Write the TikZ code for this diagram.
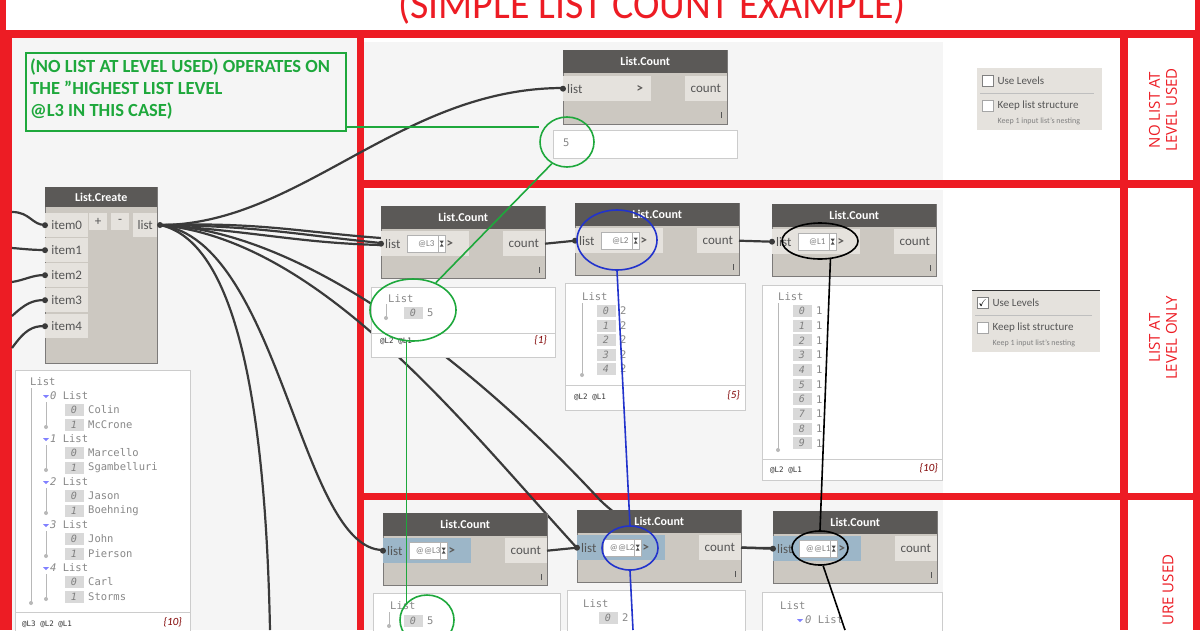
\documentclass[tikz,border=0pt]{standalone}
\usepackage{amssymb}
\usepackage{fontspec}
\setmainfont{Carlito}
\setmonofont{DejaVu Sans Mono}
\newfontfamily\lblfont{Open Sans}
\usetikzlibrary{shapes.geometric}
\definecolor{dred}{HTML}{ED1C24}
\definecolor{dgreen}{HTML}{1EA83C}
\definecolor{dblue}{HTML}{2233CC}
\definecolor{hdrc}{HTML}{5B5957}
\definecolor{bodyc}{HTML}{CCC8C1}
\definecolor{portc}{HTML}{E5E2DD}
\definecolor{porthl}{HTML}{9CB6C8}
\definecolor{canv}{HTML}{F5F5F5}
\definecolor{txtg}{HTML}{555555}
\definecolor{treeg}{HTML}{888888}
\definecolor{wirec}{HTML}{3A3A3A}
\tikzset{
  body/.style={fill=bodyc,draw=hdrc!80,line width=0.6,inner sep=0},
  hdr/.style={fill=hdrc,text=white,font=\bfseries\fontsize{12}{12}\selectfont,inner sep=0},
  port/.style={fill=portc,inner sep=0,font=\fontsize{13}{13}\selectfont,text=txtg},
  porthi/.style={fill=porthl,inner sep=0},
  spin/.style={fill=white,draw=gray!60,inner sep=0,minimum width=38,minimum height=17,font=\fontsize{9}{9}\selectfont,text=gray},
  prev/.style={fill=white,draw=gray!40,line width=0.6},
  ttx/.style={font=\ttfamily\fontsize{10.5}{10.5}\selectfont,text=treeg,inner sep=0,anchor=west},
  idxb/.style={fill=gray!30,font=\ttfamily\itshape\fontsize{10}{10}\selectfont,text=gray,inner sep=0,minimum width=19,minimum height=12},
  foot/.style={font=\ttfamily\fontsize{7.5}{7.5}\selectfont,text=black!80,inner sep=0,anchor=west},
  cnt/.style={font=\itshape\fontsize{11}{11}\selectfont,text=red!50!black,inner sep=0,anchor=east},
  wire/.style={draw=wirec,line width=2.2},
  redlbl/.style={rotate=90,text=dred,align=center,font=\lblfont\fontsize{15}{17}\selectfont},
  gcirc/.style={ellipse,draw=dgreen,line width=1.6,inner sep=0},
  bcirc/.style={ellipse,draw=dblue,line width=1.6,inner sep=0},
  kcirc/.style={ellipse,draw=black,line width=1.6,inner sep=0},
}
\newcommand\lcnode[5]{%
  \node[body,anchor=north west,minimum width=164,minimum height=72] (#1) at (#2,#3) {};
  \node[hdr,anchor=north west,minimum width=164,minimum height=23] (#1h) at (#2,#3) {List.Count};
  \node[#5,anchor=north west,minimum width=88,minimum height=25] (#1in) at (#2,#3+25) {};
  \node[port,fill=none,anchor=west] (#1lt) at ([xshift=4]#1in.west) {list};
  \node[spin,anchor=west] (#1sp) at ([xshift=26]#1in.west) {#4\hspace{10pt}};
  \node[fill=white,draw=gray!60,minimum width=7,minimum height=17,inner sep=0,anchor=east] (#1ar) at (#1sp.east) {};
  \fill[black!70] ([yshift=-3]#1ar.center) +(-2,0) -- +(2,0) -- +(0,-3) -- cycle;
  \fill[black!70] ([yshift=3]#1ar.center) +(-2,0) -- +(2,0) -- +(0,3) -- cycle;
  \node[anchor=west,inner sep=1,font=\bfseries\fontsize{13}{13}\selectfont,text=hdrc] (#1gt) at (#1sp.east) {>};
  \node[port,anchor=north east,minimum width=42,minimum height=25] (#1out) at (#2+164,#3+25) {count};
  \node[inner sep=0] (#1tk) at (#2+158,#3+64) {\color{txtg}\rule{0.6pt}{6pt}};
  \fill[wirec] (#1in.west) circle (3);
}
\newcommand\optpanel[4]{%
  \node[fill=portc,anchor=north west,minimum width=#3,minimum height=62,inner sep=0] (#1) at (#2) {};
  \node[draw=gray,fill=white,minimum size=11,inner sep=0,anchor=west] (#1c) at ([xshift=5,yshift=-13]#1.north west) {#4};
  \node[anchor=west,inner sep=0,font=\fontsize{11}{11}\selectfont,text=txtg] (#1t) at ([xshift=4]#1c.east) {Use Levels};
  \draw[gray!50,line width=1] ([xshift=3,yshift=-25]#1.north west) -- ([xshift=-8,yshift=-25]#1.north east);
  \node[draw=gray!70,fill=white,minimum size=11,inner sep=0,anchor=west] (#1k) at ([xshift=5,yshift=-38]#1.north west) {};
  \node[anchor=west,inner sep=0,font=\fontsize{11}{11}\selectfont,text=txtg] (#1kt) at ([xshift=4]#1k.east) {Keep list structure};
  \node[anchor=north west,inner sep=0,font=\fontsize{8}{8}\selectfont,text=gray] (#1ks) at ([yshift=-7]#1kt.south west) {Keep 1 input list's nesting};
}
\begin{document}
\begin{tikzpicture}[x=1pt,y=-1pt]
\useasboundingbox (0,0) rectangle (1200,630);
\clip (0,0) rectangle (1200,630);
% red frame
\fill[dred] (0,0) rectangle (1200,630);
\fill[white] (6,0) rectangle (1195,30);
\fill[canv] (12,38) rectangle (357,630);
\fill[white] (364,38) rectangle (1120,180);
\fill[canv] (364,42) rectangle (943,180);
\fill[white] (364,188) rectangle (1120,493);
\fill[canv] (364,190) rectangle (943,493);
\fill[white] (364,500) rectangle (1120,630);
\fill[canv] (364,500) rectangle (943,630);
\fill[white] (1128,38) rectangle (1193,180);
\fill[white] (1128,188) rectangle (1193,493);
\fill[white] (1128,500) rectangle (1193,630);
\node[text=dred,font=\fontsize{42}{42}\selectfont,xscale=0.95] (title) at (652,6) {(SIMPLE LIST COUNT EXAMPLE)};
\node[redlbl] (l1) at (1163,110) {NO LIST AT\\LEVEL USED};
\node[redlbl] (l2) at (1163,338) {LIST AT\\LEVEL ONLY};
\node[redlbl] (l3) at (1168,590) {URE USED};

% wires (behind nodes)
\coordinate (lcout) at (160,225);
\coordinate (w0) at (12,212); \coordinate (w1) at (12,248); \coordinate (w2) at (12,282);
\coordinate (w3) at (12,316); \coordinate (w4) at (12,348);
\draw[wire] (w0) .. controls (30,212) and (32,225) .. (45,225);
\draw[wire] (w1) .. controls (25,249) and (32,250) .. (45,250);
\draw[wire] (w2) .. controls (25,280) and (32,275) .. (45,275);
\draw[wire] (w3) .. controls (25,304) and (32,300) .. (45,300);
\draw[wire] (w4) .. controls (25,330) and (32,326) .. (45,326);
\draw[wire] (lcout) .. controls (300,225) and (400,88) .. (563,88);
\draw[wire] (lcout) .. controls (260,226) and (300,235) .. (381,243);
\draw[wire] (lcout) .. controls (260,222) and (300,232) .. (381,238);
\draw[wire] (lcout) .. controls (260,232) and (300,243) .. (381,245);
\draw[wire] (lcout) .. controls (230,240) and (265,380) .. (270,630);
\draw[wire] (lcout) .. controls (280,240) and (300,550) .. (383,550);
\draw[wire] (lcout) .. controls (320,240) and (460,420) .. (577,548);
\draw[wire] (lcout) .. controls (300,230) and (470,360) .. (600,500) .. controls (640,540) and (700,548) .. (773,548);

% List.Create
\node[body,anchor=north west,minimum width=112,minimum height=176] (lc) at (45,187) {};
\node[hdr,anchor=north west,minimum width=112,minimum height=20] (lch) at (45,187) {List.Create};
\foreach \i/\yy in {0/213,1/238,2/263,3/288,4/314}{
  \node[port,anchor=north west,minimum width=43,minimum height=24] (lci\i) at (45,\yy) {item\i};
  \fill[wirec] (lci\i.west) circle (3);
}
\node[port,anchor=north west,minimum width=18,minimum height=17] (lcp) at (89,213) {+};
\node[port,anchor=north west,minimum width=18,minimum height=17] (lcm) at (111,213) {-};
\node[port,anchor=north west,minimum width=24,minimum height=24] (lco) at (133,213) {list};
\fill[wirec] (lcout) circle (3);

% left preview
\draw[prev] (15,370) rectangle (190,640);
\node[ttx] (lt) at (30,382) {List};
\draw[treeg!60,line width=1] (31,388) -- (31,603); \fill[treeg!60] (31,603) circle (2);
\foreach \k/\a/\b in {0/Colin/McCrone,1/Marcello/Sgambelluri,2/Jason/Boehning,3/John/Pierson,4/Carl/Storms}{
  \pgfmathsetmacro\yy{396+43*\k}
  \fill[blue!50] (43,\yy-1) -- (49,\yy-1) -- (46,\yy+2) -- cycle;
  \node[ttx] at (50,\yy) {\textit{\k} List};
  \draw[treeg!60,line width=1] (46,\yy+6) -- (46,\yy+31); \fill[treeg!60] (46,\yy+31) circle (2);
  \node[idxb] at (74,\yy+14) {0}; \node[ttx] at (88,\yy+14) {\a};
  \node[idxb] at (74,\yy+28.5) {1}; \node[ttx] at (88,\yy+28.5) {\b};
}
\draw[gray!40] (15,612) -- (190,612);
\node[foot] (lf) at (22,624) {@L3 @L2 @L1};
\node[cnt] (lcn) at (182,622) {\{10\}};

% Panel 1 node
\node[body,anchor=north west,minimum width=164,minimum height=74] (a) at (563,50) {};
\node[hdr,anchor=north west,minimum width=164,minimum height=23] (ah) at (563,50) {List.Count};
\node[port,anchor=north west,minimum width=88,minimum height=25] (ain) at (563,76) {};
\node[port,fill=none,anchor=west] (alt) at ([xshift=4]ain.west) {list};
\node[anchor=east,inner sep=0,font=\bfseries\fontsize{13}{13}\selectfont,text=hdrc] (agt) at ([xshift=-8]ain.east) {>};
\node[port,anchor=north east,minimum width=42,minimum height=25] (aout) at (727,76) {count};
\node[inner sep=0] (atk) at (721,115) {\color{txtg}\rule{0.6pt}{6pt}};
\fill[wirec] (ain.west) circle (3);
\node[prev,anchor=north west,minimum width=184,minimum height=28,inner sep=0] (ap) at (553,130) {};
\node[ttx] (a5) at (563,143) {5};
\optpanel{o1}{977,68}{125}{}

% Panel 2 nodes
\lcnode{b1}{381}{206}{@L3}{port}
\lcnode{b2}{575}{203}{@L2}{port}
\lcnode{b3}{772}{204}{@L1}{port}
\draw[wire] (b1out.east) -- (b2in.west);
\draw[wire] (b2out.east) -- (b3in.west);
\optpanel{o2}{972,290}{128}{\fontsize{10}{10}\selectfont$\checkmark$}
\draw[black!80,line width=1] (972,290) -- (1100,290);
% previews panel 2
\draw[prev] (371,287) rectangle (555,357);
\node[ttx] at (388,299) {List};
\draw[treeg!60] (386,304) -- (386,318); \fill[treeg!60] (386,318) circle (2);
\node[idxb] at (413,313) {0}; \node[ttx] at (427,313) {5};
\draw[gray!40] (371,333) -- (555,333);
\node[foot] at (380,341) {@L2 @L1}; \node[cnt] at (547,340) {\{1\}};
\draw[prev] (565,283) rectangle (745,410);
\node[ttx] at (582,297) {List};
\draw[treeg!60] (582,303) -- (582,375); \fill[treeg!60] (582,375) circle (2);
\foreach \k in {0,...,4}{\node[idxb] at (606,311+14.5*\k) {\k}; \node[ttx] at (620,311+14.5*\k) {2};}
\draw[gray!40] (565,385) -- (745,385);
\node[foot] at (574,397) {@L2 @L1}; \node[cnt] at (740,395) {\{5\}};
\draw[prev] (762,285) rectangle (942,480);
\node[ttx] at (778,297) {List};
\draw[treeg!60] (778,303) -- (778,450); \fill[treeg!60] (778,450) circle (2);
\foreach \k in {0,...,9}{\node[idxb] at (802,311+14.7*\k) {\k}; \node[ttx] at (816,311+14.7*\k) {1};}
\draw[gray!40] (762,459) -- (942,459);
\node[foot] at (770,470) {@L2 @L1}; \node[cnt] at (938,468) {\{10\}};

% Panel 3 nodes
\lcnode{c1}{383}{513}{@@L3}{porthi}
\lcnode{c2}{577}{510}{@@L2}{porthi}
\lcnode{c3}{773}{511}{@@L1}{porthi}
\draw[wire] (c1out.east) -- (c2in.west);
\draw[wire] (c2out.east) -- (c3in.west);
\draw[prev] (373,593) rectangle (560,640);
\node[ttx] at (390,606) {List};
\draw[treeg!60] (389,612) -- (389,626); \fill[treeg!60] (389,626) circle (2);
\node[idxb] at (413,621) {0}; \node[ttx] at (427,621) {5};
\draw[prev] (567,590) rectangle (745,640);
\node[ttx] at (583,604) {List};
\node[idxb] at (608,618) {0}; \node[ttx] at (622,618) {2};
\draw[prev] (762,592) rectangle (942,640);
\node[ttx] at (780,606) {List};
\fill[blue!50] (797,619) -- (803,619) -- (800,622) -- cycle;
\node[ttx] at (805,620) {\textit{0} List};

% callout
\node[draw=dgreen,line width=1.6,fill=canv,anchor=north west,minimum width=320,minimum height=78,inner sep=0] (call) at (25,52) {};
\node[anchor=north west,align=left,text=dgreen,inner sep=0,font=\bfseries\fontsize{18.5}{22}\selectfont] (callt) at (30,59) {(NO LIST AT LEVEL USED) OPERATES ON\\THE "HIGHEST LIST LEVEL\\@L3 IN THIS CASE)};
% circles and annotation lines
\node[gcirc,minimum width=54,minimum height=50] (g1) at (567,142) {};
\node[gcirc,minimum width=86,minimum height=62] (g2) at (413,310) {};
\node[gcirc,minimum width=54,minimum height=50] (g3) at (427,620) {};
\draw[dgreen,line width=1.6] (call.east |- 0,127) -- (g1.west |- 0,127);
\draw[dgreen,line width=1.6] (g1.235) -- (g2.50);
\draw[dgreen,line width=1.6] (g2.258) -- (g2.258 |- g3.145);
\node[bcirc,minimum width=80,minimum height=60] (bl1) at (617,240) {};
\node[bcirc,minimum width=56,minimum height=44] (bl2) at (630,548) {};
\coordinate (bend) at (633,630);
\draw[dblue,line width=1.6] (bl1.south) -- (bl2.north);
\draw[dblue,line width=1.6] (bl2.south) -- (bend);
\node[kcirc,minimum width=76,minimum height=36] (k1) at (820,241) {};
\node[kcirc,minimum width=56,minimum height=34] (k2) at (820,548) {};
\coordinate (kend) at (845,630);
\draw[black,line width=1.6] (k1.-60) -- (k2.north);
\draw[black,line width=1.6] (k2.-80) -- (kend);
\end{tikzpicture}
\end{document}
